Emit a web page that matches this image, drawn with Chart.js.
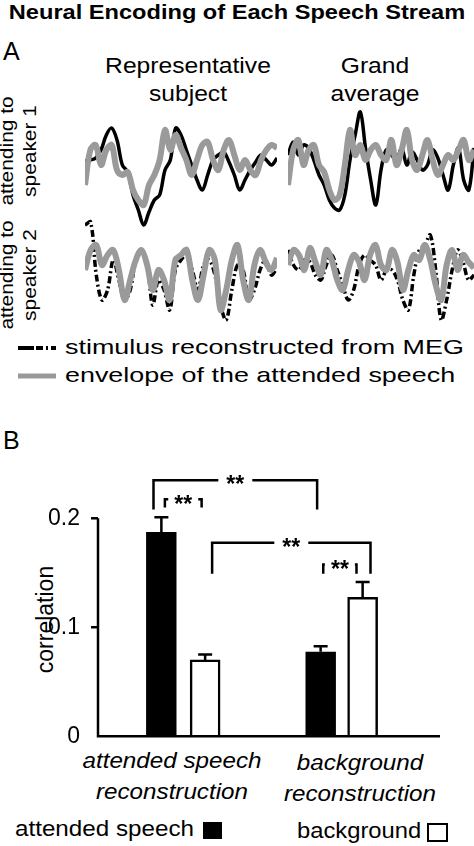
<!DOCTYPE html>
<html><head><meta charset="utf-8">
<script src="https://cdn.jsdelivr.net/npm/chart.js@4.4.0/dist/chart.umd.min.js"></script>
<style>
body{margin:0;width:474px;height:846px;background:#fff;font-family:"Liberation Sans",Arial,sans-serif;position:relative;overflow:hidden;color:#000}
.t{position:absolute;white-space:nowrap}
canvas{position:absolute}
</style></head><body>
<div class="t" style="left:0;width:474px;text-align:center;top:1px;font-weight:bold;font-size:20px;transform:scaleX(1.18)">Neural Encoding of Each Speech Stream</div>
<div class="t" style="left:3px;top:37px;font-size:25px">A</div>
<div class="t" style="left:98px;width:180px;text-align:center;top:52px;font-size:22px;line-height:28px;transform:scaleX(1.12)">Representative<br>subject</div>
<div class="t" style="left:300px;width:150px;text-align:center;top:52px;font-size:22px;line-height:28px;transform:scaleX(1.12)">Grand<br>average</div>
<div class="t" style="left:-42px;top:128px;width:120px;text-align:center;transform:rotate(-90deg) scaleX(1.1);font-size:19px;line-height:23px">attending to<br>speaker 1</div>
<div class="t" style="left:-42px;top:252px;width:120px;text-align:center;transform:rotate(-90deg) scaleX(1.1);font-size:19px;line-height:23px">attending to<br>speaker 2</div>
<svg style="position:absolute;left:0;top:0" width="474" height="400">
<line x1="18" y1="348" x2="34" y2="348" stroke="#000" stroke-width="4"/>
<line x1="36" y1="348" x2="56" y2="348" stroke="#000" stroke-width="4" stroke-dasharray="7,3,2,3"/>
<line x1="18" y1="376" x2="56" y2="376" stroke="#999" stroke-width="5"/>
</svg>
<div class="t" style="left:65px;top:335px;font-size:21px;transform-origin:left;transform:scaleX(1.28)">stimulus reconstructed from MEG</div>
<div class="t" style="left:65px;top:363px;font-size:21px;transform-origin:left;transform:scaleX(1.28)">envelope of the attended speech</div>
<div class="t" style="left:3px;top:426px;font-size:25px">B</div>
<div class="t" style="left:-20px;top:606px;width:130px;text-align:center;transform:rotate(-90deg);font-size:23px">correlation</div>
<div class="t" style="left:62px;width:220px;text-align:center;top:745px;font-size:22px;font-style:italic;line-height:31px;transform:scaleX(1.1)">attended speech<br>reconstruction</div>
<div class="t" style="left:255px;width:210px;text-align:center;top:747px;font-size:22px;font-style:italic;line-height:31px;transform:scaleX(1.1)">background<br>reconstruction</div>
<div class="t" style="left:15px;top:816px;font-size:22px;transform-origin:left;transform:scaleX(1.1)">attended speech</div>
<div style="position:absolute;left:203px;top:822px;width:19px;height:17px;background:#000"></div>
<div class="t" style="left:297px;top:818px;font-size:22px;transform-origin:left;transform:scaleX(1.08)">background</div>
<div style="position:absolute;left:427px;top:823px;width:17px;height:15px;border:2px solid #000;background:#fff"></div>
<canvas id="cl" style="left:85px;top:100px;width:192px;height:240px" width="192" height="240"></canvas>
<canvas id="cr" style="left:288px;top:100px;width:186px;height:240px" width="186" height="240"></canvas>
<canvas id="cb" style="left:0;top:440px;width:474px;height:320px" width="474" height="320"></canvas>
<script>
// Panel A traces (vertical position units, larger = lower on page)
const subjS1Recon=[161,160,158,150,135,128,140,165,172,195,210,225,212,200,195,170,160,128,135,150,165,180,190,175,160,155,152,162,175,190,180,170,162,155,160,165,158];
const subjS1Env=[185,150,145,165,150,145,170,175,172,190,200,205,185,175,160,130,150,135,148,160,175,160,145,142,160,170,150,140,155,170,160,170,175,160,150,145,148];
const subjS2Recon=[225,222,275,300,290,260,280,300,290,260,250,265,305,280,290,310,270,260,255,270,290,265,260,275,305,320,290,265,270,300,290,270,260,275,268];
const subjS2Env=[270,250,245,265,255,250,270,300,280,260,250,265,290,270,280,300,260,255,250,280,300,275,250,260,310,290,260,245,280,300,265,250,262,270,258];
const avgS1Recon=[155,142,155,145,148,160,175,185,200,208,210,195,160,135,112,148,180,205,170,150,155,160,148,165,152,160,170,165,150,158,175,190,165,148,180,190,148];
const avgS1Env=[185,150,140,165,150,145,165,172,190,200,195,165,130,155,145,160,150,145,155,160,140,165,150,130,160,170,155,140,160,175,165,155,160,150,140,160,150];
const avgS2Recon=[250,265,270,260,262,275,280,265,255,270,285,300,290,265,255,260,265,280,270,270,280,300,310,275,250,245,235,270,320,300,270,250,262,280,275];
const avgS2Env=[265,250,255,270,248,262,275,250,260,280,290,270,255,262,280,255,245,265,270,250,262,290,270,255,260,245,260,285,300,265,250,270,255,262,268];

function lineChart(id,recon1,env1,recon2,env2){
  const n=Math.max(recon1.length,env1.length,recon2.length,env2.length);
  const ds=(d,c,w,dash)=>({data:d.map((v,i)=>({x:i*(n-1)/(d.length-1),y:v})),borderColor:c,borderWidth:w,pointRadius:0,tension:0.35,borderDash:dash||[],fill:false});
  new Chart(document.getElementById(id),{type:'line',
    data:{datasets:[ds(env1,'#9a9a9a',6),ds(recon1,'#000',3.5),ds(env2,'#9a9a9a',6),ds(recon2,'#000',3.5,[7,3,2,3])]},
    options:{responsive:false,animation:false,layout:{padding:0},plugins:{legend:{display:false},tooltip:{enabled:false}},
      scales:{x:{type:'linear',display:false,min:0,max:n-1},y:{display:false,reverse:true,min:100,max:340}}}});
}
lineChart('cl',subjS1Recon,subjS1Env,subjS2Recon,subjS2Env);
lineChart('cr',avgS1Recon,avgS1Env,avgS2Recon,avgS2Env);

// Panel B
const barPos=[0.96,1.96,4.6,5.56];
const barValues=[0.187,0.070,0.0775,0.1275];
const barErrors=[0.014,0.005,0.005,0.014];
const barFill=['#000','#fff','#000','#fff'];
const yTicks=[0,0.1,0.2];
const yTickLabels=['0','0.1','0.2'];
// significance brackets: [xLeft,xRight,yTop,yLeftEnd,yRightEnd,small]
const brackets=[[0.78,4.52,0.235,0.208,0.208,0],[1.04,1.88,0.2175,0.21,0.21,1],[2.12,5.74,0.1775,0.149,0.149,0],[4.66,5.42,0.1575,0.149,0.149,1]];

const deco={id:'deco',afterDatasetsDraw(c){
  const g=c.ctx,x=c.scales.x,y=c.scales.y;
  g.save();g.strokeStyle='#000';g.fillStyle='#000';g.lineWidth=2.5;
  g.beginPath();g.moveTo(x.left,y.getPixelForValue(0.2));g.lineTo(x.left,y.getPixelForValue(0));g.lineTo(x.right,y.getPixelForValue(0));g.stroke();
  yTicks.forEach(t=>{if(t>0){g.beginPath();g.moveTo(x.left-7,y.getPixelForValue(t));g.lineTo(x.left,y.getPixelForValue(t));g.stroke();}});
  barPos.forEach((p,i)=>{const px=x.getPixelForValue(p),t=y.getPixelForValue(barValues[i]),e=y.getPixelForValue(barValues[i]+barErrors[i]);
    g.beginPath();g.moveTo(px,t);g.lineTo(px,e);g.moveTo(px-7,e);g.lineTo(px+7,e);g.stroke();});
  g.font='bold 23px "Liberation Sans",Arial';g.textAlign='center';g.textBaseline='middle';
  brackets.forEach(b=>{const l=x.getPixelForValue(b[0]),r=x.getPixelForValue(b[1]),tp=y.getPixelForValue(b[2]);
    const m=(l+r)/2,hw=b[5]?15:17;
    g.beginPath();g.moveTo(l,y.getPixelForValue(b[3]));g.lineTo(l,tp);g.lineTo(m-hw,tp);g.moveTo(m+hw,tp);g.lineTo(r,tp);g.lineTo(r,y.getPixelForValue(b[4]));g.stroke();
    g.fillText('**',m,tp+6);});
  g.restore();}};

new Chart(document.getElementById('cb'),{type:'bar',
  data:{datasets:[{data:barPos.map((p,i)=>({x:p,y:barValues[i]})),backgroundColor:barFill,borderColor:'#000',borderWidth:2.5,borderSkipped:'bottom',barThickness:30}]},
  options:{responsive:false,animation:false,layout:{padding:{top:2,right:34,bottom:18,left:0}},
    plugins:{legend:{display:false},tooltip:{enabled:false}},
    scales:{x:{type:'linear',min:0,max:6.84,display:false},
      y:{min:0,max:0.25,border:{display:false},grid:{display:false},
        afterFit(s){s.width=98;},
        afterBuildTicks(s){s.ticks=yTicks.map(v=>({value:v}));},
        ticks:{color:'#000',font:{size:23,family:'"Liberation Sans",Arial'},padding:10,callback:(v)=>yTickLabels[yTicks.indexOf(v)]}}}},
  plugins:[deco]});
</script>
</body></html>
